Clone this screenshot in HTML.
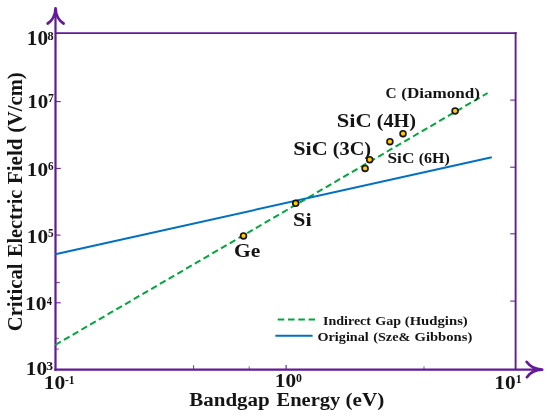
<!DOCTYPE html>
<html>
<head>
<meta charset="utf-8">
<title>Critical Electric Field vs Bandgap Energy</title>
<style>
html,body{margin:0;padding:0;background:#fff;}
body{width:550px;height:418px;overflow:hidden;}
svg{display:block;}
text{font-family:"Liberation Serif","DejaVu Serif",serif;font-weight:bold;fill:#141414;}
.ax{stroke:#621a96;fill:none;}
.pt{fill:url(#pg);stroke:#141414;stroke-width:1.6;}
</style>
</head>
<body>
<svg width="550" height="418" viewBox="0 0 550 418">
<defs>
<radialGradient id="pg" cx="50%" cy="50%" r="50%">
<stop offset="0" stop-color="#ffd420"/><stop offset="0.55" stop-color="#ffc400"/><stop offset="1" stop-color="#f0a000"/>
</radialGradient>
</defs>
<rect width="550" height="418" fill="#ffffff"/>

<!-- frame -->
<line class="ax" x1="55.5" y1="9" x2="55.5" y2="370.7" stroke-width="2.2"/>
<line class="ax" x1="54.35" y1="369.6" x2="541" y2="369.6" stroke-width="2.3"/>
<line class="ax" x1="55.5" y1="33.05" x2="516.5" y2="33.05" stroke-width="1.75"/>
<line class="ax" x1="515.6" y1="32.05" x2="515.6" y2="369.6" stroke-width="1.9"/>
<!-- arrow heads -->
<path class="ax" d="M47.7 23.5 Q55.1 18.8 55.55 8.3 Q56 18.8 63.6 23.5" stroke-width="2.7" stroke-linecap="round" stroke-linejoin="round"/>
<path class="ax" d="M526.6 361.8 Q531.7 369.15 542.2 369.6 Q531.7 370.05 526.9 377.2" stroke-width="2.7" stroke-linecap="round" stroke-linejoin="round"/>

<!-- ticks -->
<g class="ax" stroke-width="1.05">
<line x1="56" y1="101.6" x2="60.8" y2="101.6"/>
<line x1="56" y1="168.4" x2="60.8" y2="168.4"/>
<line x1="56" y1="235.1" x2="60.5" y2="235.1"/>
<line x1="56" y1="302.8" x2="60.8" y2="302.8"/>
<line x1="56" y1="282.6" x2="59.8" y2="282.6" stroke-width="0.9"/>
<line x1="56" y1="338.4" x2="59" y2="338.4" stroke-width="0.7"/>
<line x1="56" y1="349.1" x2="59" y2="349.1" stroke-width="0.7"/>
<line x1="510.2" y1="100.1" x2="515" y2="100.1"/>
<line x1="510.2" y1="167.2" x2="515" y2="167.2"/>
<line x1="510.2" y1="233.8" x2="515" y2="233.8"/>
<line x1="510.2" y1="301.1" x2="515" y2="301.1"/>
<line x1="193.6" y1="365.2" x2="193.6" y2="369" stroke-width="0.9"/>
<line x1="249.2" y1="366.2" x2="249.2" y2="369" stroke-width="0.7"/>
<line x1="286.1" y1="365" x2="286.1" y2="369" stroke-width="1.1"/>
<line x1="424" y1="366.2" x2="424" y2="369" stroke-width="0.7"/>
</g>

<!-- data lines -->
<line x1="55.2" y1="345.0" x2="487.6" y2="93.0" stroke="#00a73c" stroke-width="2" stroke-dasharray="6.5 3.6"/>
<line x1="55.3" y1="254.3" x2="491.8" y2="157.2" stroke="#0070c0" stroke-width="1.95"/>

<!-- points -->
<circle class="pt" cx="243.5" cy="235.9" r="2.95"/>
<circle class="pt" cx="295.7" cy="203.3" r="2.95"/>
<circle class="pt" cx="365.1" cy="168.4" r="2.95"/>
<circle class="pt" cx="369.7" cy="159.7" r="2.95"/>
<circle class="pt" cx="389.9" cy="141.7" r="2.95"/>
<circle class="pt" cx="403" cy="133.7" r="2.95"/>
<circle class="pt" cx="455.1" cy="110.9" r="2.95"/>

<!-- text -->
<text y="45.30" font-size="20.0"><tspan x="26.75" textLength="21.27" lengthAdjust="spacingAndGlyphs">10</tspan><tspan x="47.50" textLength="6.10" lengthAdjust="spacingAndGlyphs" y="39.90" font-size="12.2">8</tspan></text>
<text y="108.30" font-size="19.6"><tspan x="27.25" textLength="20.99" lengthAdjust="spacingAndGlyphs">10</tspan><tspan x="48.00" textLength="5.88" lengthAdjust="spacingAndGlyphs" y="102.40" font-size="12.2">7</tspan></text>
<text y="175.50" font-size="19.6"><tspan x="26.75" textLength="21.27" lengthAdjust="spacingAndGlyphs">10</tspan><tspan x="48.00" textLength="5.59" lengthAdjust="spacingAndGlyphs" y="169.50" font-size="12.2">6</tspan></text>
<text y="242.50" font-size="19.6"><tspan x="26.75" textLength="21.27" lengthAdjust="spacingAndGlyphs">10</tspan><tspan x="48.00" textLength="5.65" lengthAdjust="spacingAndGlyphs" y="236.50" font-size="12.2">5</tspan></text>
<text y="310.10" font-size="19.6"><tspan x="25.00" textLength="21.56" lengthAdjust="spacingAndGlyphs">10</tspan><tspan x="46.75" textLength="5.26" lengthAdjust="spacingAndGlyphs" y="304.50" font-size="12.2">4</tspan></text>
<text y="375.30" font-size="19.6"><tspan x="25.75" textLength="21.27" lengthAdjust="spacingAndGlyphs">10</tspan><tspan x="46.25" textLength="6.86" lengthAdjust="spacingAndGlyphs" y="369.90" font-size="12.2">3</tspan></text>
<text y="388.65" font-size="19.6"><tspan x="43.75" textLength="21.55" lengthAdjust="spacingAndGlyphs">10</tspan><tspan x="65.00" textLength="9.60" lengthAdjust="spacingAndGlyphs" y="384.20" font-size="12.0">-1</tspan></text>
<text y="387.15" font-size="19.6"><tspan x="274.75" textLength="21.27" lengthAdjust="spacingAndGlyphs">10</tspan><tspan x="296.00" textLength="5.90" lengthAdjust="spacingAndGlyphs" y="381.50" font-size="12.2">0</tspan></text>
<text y="388.75" font-size="19.6"><tspan x="494.25" textLength="21.31" lengthAdjust="spacingAndGlyphs">10</tspan><tspan x="515.75" textLength="5.90" lengthAdjust="spacingAndGlyphs" y="383.10" font-size="12.0">1</tspan></text>
<text y="406.10" font-size="19.8"><tspan x="189.25" textLength="80.52" lengthAdjust="spacingAndGlyphs">Bandgap</tspan> <tspan x="276.50" textLength="63.75" lengthAdjust="spacingAndGlyphs">Energy</tspan> <tspan x="345.50" textLength="38.84" lengthAdjust="spacingAndGlyphs">(eV)</tspan></text>
<text transform="translate(21.90 0) rotate(-90)" font-size="20.8"><tspan x="-331.25" textLength="67.77" lengthAdjust="spacingAndGlyphs">Critical</tspan> <tspan x="-257.00" textLength="67.26" lengthAdjust="spacingAndGlyphs">Electric</tspan> <tspan x="-184.25" textLength="45.76" lengthAdjust="spacingAndGlyphs">Field</tspan> <tspan x="-132.75" textLength="60.31" lengthAdjust="spacingAndGlyphs">(V/cm)</tspan></text>
<text y="97.70" font-size="15.5"><tspan x="385.50" textLength="11.10" lengthAdjust="spacingAndGlyphs">C</tspan> <tspan x="401.25" textLength="78.78" lengthAdjust="spacingAndGlyphs">(Diamond)</tspan></text>
<text y="127.00" font-size="19.3"><tspan x="336.75" textLength="34.99" lengthAdjust="spacingAndGlyphs">SiC</tspan> <tspan x="376.75" textLength="39.32" lengthAdjust="spacingAndGlyphs">(4H)</tspan></text>
<text y="155.20" font-size="19.3"><tspan x="293.25" textLength="34.49" lengthAdjust="spacingAndGlyphs">SiC</tspan> <tspan x="332.75" textLength="38.33" lengthAdjust="spacingAndGlyphs">(3C)</tspan></text>
<text y="163.40" font-size="15.2"><tspan x="387.50" textLength="26.93" lengthAdjust="spacingAndGlyphs">SiC</tspan> <tspan x="418.75" textLength="31.07" lengthAdjust="spacingAndGlyphs">(6H)</tspan></text>
<text y="225.60" font-size="19.3"><tspan x="293.00" textLength="18.62" lengthAdjust="spacingAndGlyphs">Si</tspan></text>
<text y="257.20" font-size="19.6"><tspan x="234.00" textLength="26.33" lengthAdjust="spacingAndGlyphs">Ge</tspan></text>
<text y="324.80" font-size="12.8"><tspan x="323.00" textLength="48.00" lengthAdjust="spacingAndGlyphs">Indirect</tspan> <tspan x="375.25" textLength="25.80" lengthAdjust="spacingAndGlyphs">Gap</tspan> <tspan x="404.75" textLength="63.03" lengthAdjust="spacingAndGlyphs">(Hudgins)</tspan></text>
<text y="340.80" font-size="12.8"><tspan x="317.50" textLength="51.27" lengthAdjust="spacingAndGlyphs">Original</tspan> <tspan x="373.25" textLength="37.06" lengthAdjust="spacingAndGlyphs">(Sze&amp;</tspan> <tspan x="414.50" textLength="57.78" lengthAdjust="spacingAndGlyphs">Gibbons)</tspan></text>

<!-- legend -->
<line x1="277.7" y1="319.4" x2="315" y2="319.4" stroke="#00a73c" stroke-width="1.95" stroke-dasharray="6.6 3.7"/>
<line x1="275.4" y1="335.8" x2="312.6" y2="335.8" stroke="#0070c0" stroke-width="1.9"/>
</svg>
</body>
</html>
